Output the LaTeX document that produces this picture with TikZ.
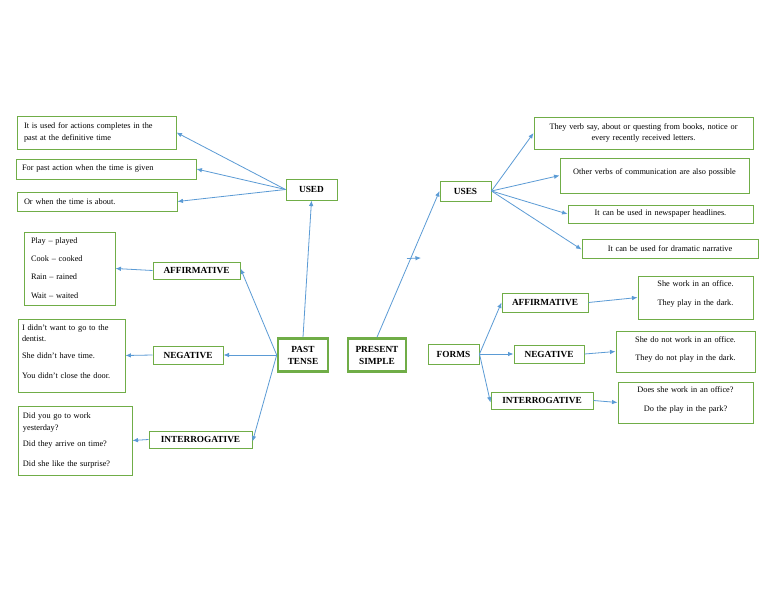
\documentclass[tikz,border=0pt]{standalone}
\usepackage{fontspec}
\setmainfont{Liberation Serif}
\usetikzlibrary{arrows.meta}
\definecolor{boxgreen}{RGB}{112,173,71}
\definecolor{arrowblue}{RGB}{91,155,213}
\tikzset{
  box/.style={draw=boxgreen, line width=0.9pt, inner sep=0pt, font=\fontsize{8.3}{11.5}\selectfont},
  lbox/.style={box, align=left},
  cbox/.style={box, align=center},
  lab/.style={draw=boxgreen, line width=1pt, inner sep=0pt, font=\fontsize{9.3}{12}\selectfont\bfseries},
  mainbox/.style={draw=boxgreen, line width=2.6pt, inner sep=0pt, align=center, font=\fontsize{9.3}{12}\selectfont\bfseries},
  conn/.style={draw=arrowblue, line width=0.8pt, -{Latex[length=5.5pt,width=4.5pt]}}
}
\begin{document}
\begin{tikzpicture}[x=1pt,y=-1pt]
\useasboundingbox (0,0) rectangle (768,594);
\fill[white] (0,0) rectangle (768,594);

% central nodes
\node[mainbox, minimum width=50pt, minimum height=33pt] (past) at (303,355) {PAST\\TENSE};
\node[mainbox, minimum width=58pt, minimum height=33pt] (present) at (377,355) {PRESENT\\SIMPLE};

% left side labels
\node[lab, minimum width=51pt, minimum height=21pt] (used) at (311.5,189.5) {USED};
\node[lab, minimum width=87pt, minimum height=17pt] (affL) at (196.5,270.5) {AFFIRMATIVE};
\node[lab, minimum width=70pt, minimum height=18pt] (negL) at (188,355) {NEGATIVE};
\node[lab, minimum width=103pt, minimum height=17pt] (intL) at (200.5,439.5) {INTERROGATIVE};

% left side text boxes
\node[lbox, minimum width=159pt, minimum height=33pt, text width=145pt] (l1) at (96.5,132.5)
  {It is used for actions completes in the\\past at the definitive time};
\node[lbox, minimum width=180pt, minimum height=20pt, text width=168pt] (l2) at (106,169)
  {For past action when the time is given};
\node[lbox, minimum width=160pt, minimum height=19pt, text width=146pt] (l3) at (97,201.5)
  {Or when the time is about.};
\node[lbox, minimum width=91pt, minimum height=73pt, text width=77pt, font=\fontsize{8.3}{18.4}\selectfont] (play) at (69.5,268.5)
  {\mbox{}\\[-14pt]Play -- played\\Cook -- cooked\\Rain -- rained\\Wait -- waited};
\node[lbox, minimum width=107pt, minimum height=73pt, text width=99pt] (negbox) at (71.5,355.5)
  {I didn't want to go to the\\dentist.\\[5pt]She didn't have time.\\[8.5pt]You didn't close the door.\\[-3.5pt]\mbox{}};
\node[lbox, minimum width=114pt, minimum height=69pt, text width=104pt] (intbox) at (75,440.5)
  {Did you go to work\\yesterday?\\[5pt]Did they arrive on time?\\[8.5pt]Did she like the surprise?};

% right side labels
\node[lab, minimum width=51pt, minimum height=20pt] (uses) at (465.5,191) {USES};
\node[lab, minimum width=51pt, minimum height=20pt] (forms) at (453.5,354) {FORMS};
\node[lab, minimum width=86pt, minimum height=19pt] (affR) at (545,302.5) {AFFIRMATIVE};
\node[lab, minimum width=70pt, minimum height=18pt] (negR) at (549,354) {NEGATIVE};
\node[lab, minimum width=102pt, minimum height=17pt] (intR) at (542,400.5) {INTERROGATIVE};

% right side text boxes
\node[cbox, minimum width=219pt, minimum height=32pt, text width=215pt, font=\fontsize{8.3}{10.5}\selectfont] (r1) at (643.5,133)
  {They verb say, about or questing from books, notice or\\every recently received letters.};
\node[cbox, minimum width=189pt, minimum height=35pt, text width=185pt] (r2) at (654.5,175.5)
  {Other verbs of communication are also possible\\[-4.5pt]\mbox{}};
\node[cbox, minimum width=185pt, minimum height=18pt, text width=181pt] (r3) at (660.5,214)
  {It can be used in newspaper headlines.};
\node[cbox, minimum width=176pt, minimum height=19pt, text width=172pt] (r4) at (670,248.5)
  {It can be used for dramatic narrative};
\node[cbox, minimum width=115pt, minimum height=43pt, text width=111pt, font=\fontsize{8.3}{19}\selectfont] (ra) at (695.5,297.5)
  {She work in an office.\\They play in the dark.\\[-11pt]\mbox{}};
\node[cbox, minimum width=139pt, minimum height=41pt, text width=135pt, font=\fontsize{8.3}{18}\selectfont] (rn) at (685.5,351.5)
  {She do not work in an office.\\They do not play in the dark.\\[-13pt]\mbox{}};
\node[cbox, minimum width=135pt, minimum height=41pt, text width=131pt, font=\fontsize{8.3}{19}\selectfont] (ri) at (685.5,402.5)
  {Does she work in an office?\\Do the play in the park?\\[-13pt]\mbox{}};

% connectors left
\draw[conn] (used.west) -- (l1.east);
\draw[conn] (used.west) -- (l2.east);
\draw[conn] (used.west) -- (l3.east);
\draw[conn] (past.north) -- (used.south);
\draw[conn] (past.west) -- ([yshift=2pt]affL.east);
\draw[conn] (past.west) -- (negL.east);
\draw[conn] (past.west) -- ([yshift=-2pt]intL.east);
\draw[conn] (affL.west) -- (play.east);
\draw[conn] (negL.west) -- (negbox.east);
\draw[conn] (intL.west) -- (intbox.east);

% connectors right
\draw[conn] (present.north) -- (uses.west);
\coordinate (s1) at (407,258.5);
\coordinate (s2) at (421,258);
\draw[conn] (s1) -- (s2);
\draw[conn] (uses.east) -- (r1.west);
\draw[conn] (uses.east) -- (r2.west);
\draw[conn] (uses.east) -- (r3.west);
\draw[conn] (uses.east) -- ([yshift=-1pt]r4.west);
\draw[conn] (forms.east) -- (affR.west);
\draw[conn] (forms.east) -- (negR.west);
\draw[conn] (forms.east) -- ([yshift=-2pt]intR.west);
\draw[conn] (affR.east) -- (ra.west);
\draw[conn] (negR.east) -- (rn.west);
\draw[conn] (intR.east) -- (ri.west);
\end{tikzpicture}
\end{document}
